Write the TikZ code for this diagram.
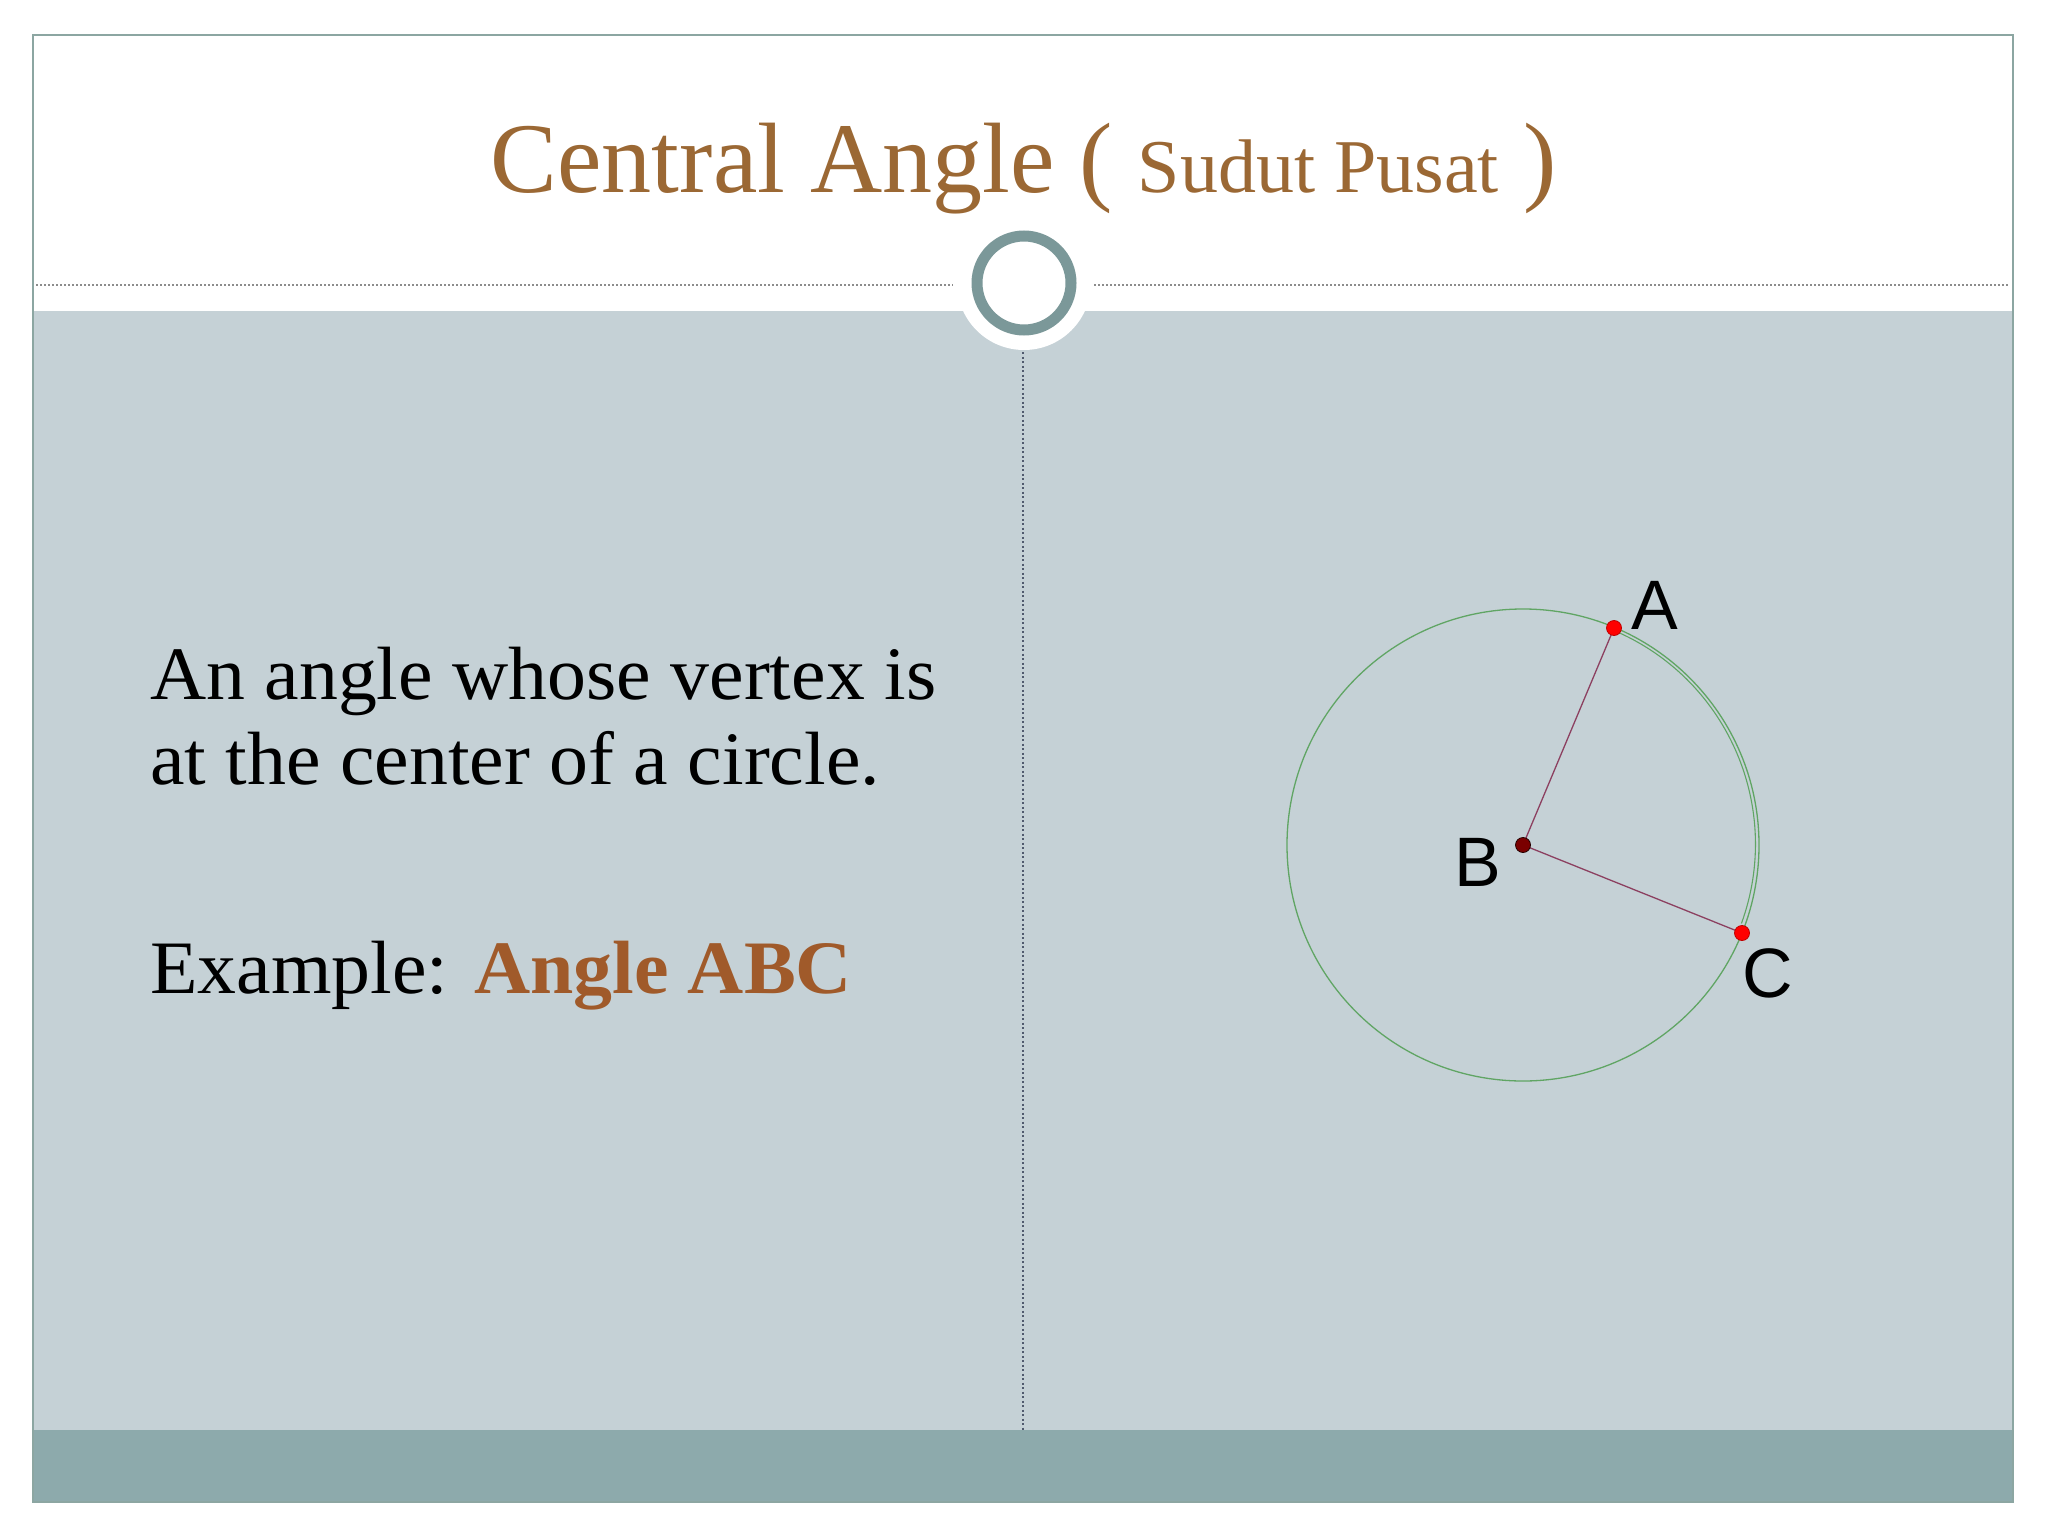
\documentclass[tikz,border=0pt]{standalone}
\usepackage{fontspec}
\setmainfont{Liberation Serif}
\newfontfamily\bodyfont[FakeStretch=1.03]{Liberation Serif}
\newfontfamily\labelfont{Liberation Sans}
\definecolor{bgray}{RGB}{197,209,214}
\definecolor{footc}{RGB}{141,170,172}
\definecolor{framec}{RGB}{140,166,162}
\definecolor{ringc}{RGB}{123,152,153}
\definecolor{titlec}{RGB}{155,104,52}
\definecolor{accentc}{RGB}{160,90,42}
\definecolor{greenc}{RGB}{96,165,100}
\definecolor{segc}{RGB}{140,64,96}
\definecolor{darkdot}{RGB}{122,0,0}
\definecolor{hdotc}{RGB}{140,140,140}
\definecolor{vdotc}{RGB}{80,90,110}
\begin{document}
\begin{tikzpicture}[x=1pt,y=-1pt,
  txt/.style={anchor=base west,inner sep=0pt,font=\bodyfont\fontsize{75.5}{83}\selectfont},
  reddot/.style={circle,fill=red,draw=red!75!black,line width=0.8pt,minimum size=15pt,inner sep=0pt},
  ctrdot/.style={circle,fill=darkdot,draw=black!70!darkdot,line width=0.8pt,minimum size=15pt,inner sep=0pt},
  seg/.style={segc,line width=1.3pt},
  lbl/.style={inner sep=0pt,font=\labelfont\fontsize{70}{70}\selectfont},
  hdots/.style={hdotc,line width=1.5pt,dash pattern=on 1.5pt off 2.5pt},
  vdots/.style={vdotc,line width=1.5pt,dash pattern=on 2pt off 2.5pt}]
\useasboundingbox (0,0) rectangle (2048,1536);
\fill[white] (0,0) rectangle (2048,1536);
% panels
\fill[bgray] (33,311) rectangle (2013,1430);
\fill[footc] (33,1430) rectangle (2013,1502);
\draw[framec,line width=2pt] (33,35) rectangle (2013,1502);
% dotted separators
\draw[hdots] (36,285) -- (953,285);
\draw[hdots] (1094,285) -- (2010,285);
\draw[vdots] (1023,352) -- (1023,1430);
% ornament
\coordinate (orn) at (1024,283);
\fill[white] (orn) circle (67pt);
\draw[ringc,line width=11pt] (orn) circle (47pt);
% title
\node[anchor=base,inner sep=0pt,text=titlec] (title) at (1024,193)
  {\fontsize{100}{100}\selectfont Central Angle ( {\fontsize{76}{76}\selectfont Sudut Pusat} )};
% left text
\node[txt] (line1) at (150,699) {An angle whose vertex is};
\node[txt] (line2) at (150,784) {at the center of a circle.};
\node[txt] (example) at (150,993) {Example: \textcolor{accentc}{\bfseries Angle ABC}};
% geometry
\coordinate (B) at (1523,845);
\coordinate (A) at (1614,628);
\coordinate (C) at (1742,933);
\draw[greenc,line width=1.3pt] (B) circle (236pt);
\draw[greenc,line width=1.1pt] ([shift={(66:233pt)}]B) arc[start angle=66,end angle=-20,radius=232pt];
\draw[seg] (B) -- (A);
\draw[seg] (B) -- (C);
\node[reddot] (dA) at (A) {};
\node[reddot] (dC) at (C) {};
\node[ctrdot] (dB) at (B) {};
\node[lbl] (lA) at (1655,605) {A};
\node[lbl] (lB) at (1478,862) {B};
\node[lbl] (lC) at (1768,973) {C};
\end{tikzpicture}
\end{document}
